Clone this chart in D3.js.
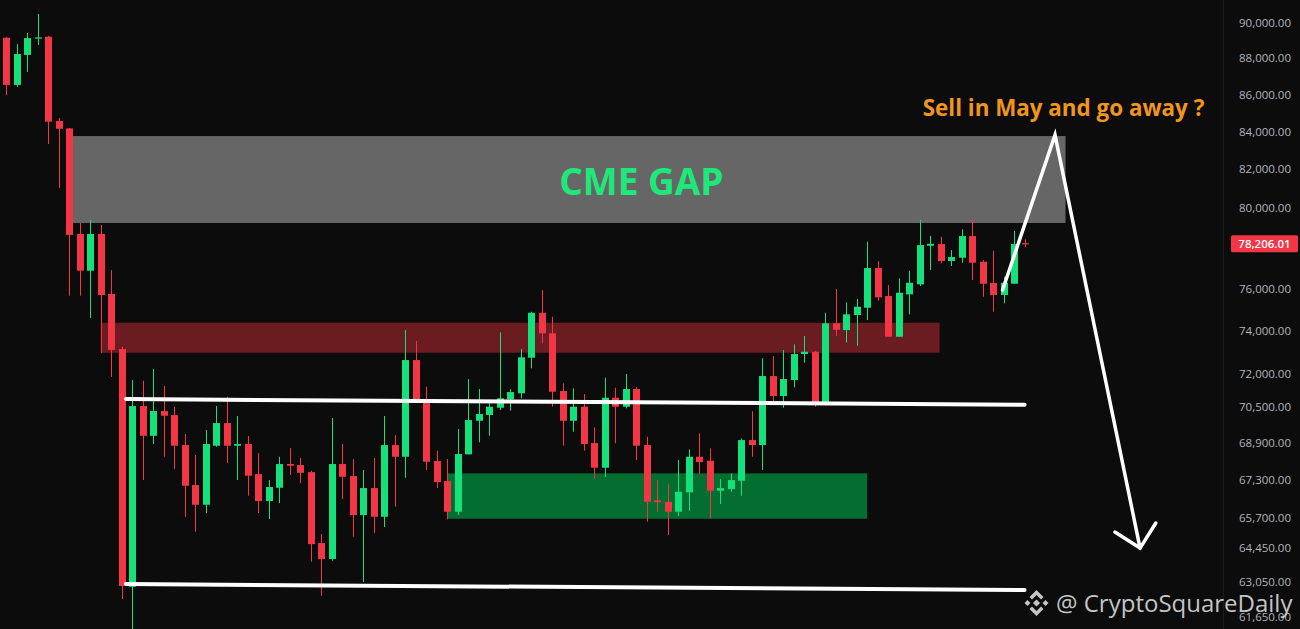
<!DOCTYPE html>
<html><head><meta charset="utf-8">
<script src="https://cdn.jsdelivr.net/npm/d3@7"></script>
<style>html,body{margin:0;padding:0;background:#0c0c0c;overflow:hidden}</style>
</head><body><svg id="c" width="1300" height="629"></svg>
<script>
// ---- data ----
const opens=[89160,86520,88190,89120,89220,84560,84160,78690,76870,78690,75740,73130,62860,70525,69200,70300,70120,68795,67065,66230,68765,69765,68765,68840,67535,66385,66950,67970,67925,67620,64635,63980,67968,67450,65795,66937,65725,68795,68285,72620,70840,68098,67236,65935,68390,69867,70122,70449,70826,71097,72728,74840,73865,71201,69867,70494,68882,67808,70898,70494,71292,68795,66414,66355,65935,66754,68285,68110,66822,66894,67249,69013,68795,71885,70975,71702,72898,73005,70673,74337,74020,74731,75079,77001,75640,73705,75722,76206,78101,78186,77345,77508,78585,77311,76269,75689,76235,78230];
const highs=[89200,88800,89430,90520,89260,84720,84180,79240,79390,79140,76900,73240,71700,71670,72210,71430,70480,69280,68360,69455,70525,70940,70080,69190,68445,67280,68285,68660,68230,67680,65005,69990,68840,68185,67710,68230,70077,69233,74020,73505,71400,68545,68185,69500,71747,71292,70718,73912,71292,73131,74888,75930,74650,71551,71324,71065,69575,71807,71351,71976,71383,69158,67279,67108,68141,68605,69309,68650,67322,67566,69088,70300,72704,72806,73085,73350,73738,73038,74840,75978,75338,75497,78301,77345,76172,76497,76869,79391,78585,78550,77888,78922,79477,77395,77853,76577,78836,78420];
const lows=[85970,86410,87240,88750,83330,81030,75660,75660,74590,72950,71840,62370,61190,67280,68840,68285,67750,65715,65100,65880,68720,68010,67280,66610,65880,65630,66300,67495,67150,63870,62500,63910,66470,64895,63050,65046,65296,66145,67375,70660,67710,66937,65617,65796,68380,68913,69203,70345,70314,70871,72238,73396,70494,68765,69380,68545,67322,67420,68869,70422,68141,65516,65935,64963,65754,65976,67536,65658,66258,66779,66610,68285,67709,70673,70449,71369,72496,70494,70556,73752,73442,73284,74493,75415,73700,73700,74764,76124,76903,77232,77100,77262,76415,75607,74888,75290,76230,78020];
const closes=[86520,88240,89140,89180,84520,84140,78640,76870,78690,75690,73090,62890,70525,69200,70300,70090,68765,67035,66230,68840,69765,68765,68840,67465,66385,66980,67968,67895,67590,64590,63980,67968,67420,65795,66937,65725,68795,68285,72620,70795,68067,67193,65935,68402,69898,70166,70494,70871,71155,72746,74840,73865,71169,69867,70494,68838,67808,70898,70494,71292,68765,66355,66342,65935,66779,68285,68054,66822,66937,67279,69013,68795,71885,70975,71747,72898,73005,70673,74337,74035,74764,75127,77001,75577,73705,75800,76284,78136,78201,77345,77543,78585,77262,76235,75689,76284,78186,78206.01];
const yTicks=[90000,88000,86000,84000,82000,80000,76000,74000,72000,70500,68900,67300,65700,64450,63050,61650];
const lastPrice=78206.01;
// zones: [start bar, end bar, upper price, lower price]
const cmeGap=[6.3,100.9,83750,79240];
const resistanceZone=[9.0,88.9,74365,72959];
const supportZone=[42.0,82.0,67566,65642];
// lines: [bar, price] points
const rangeTop=[[11.4,70838],[97.0,70583]];
const rangeBottom=[[11.4,62968],[97.0,62728]];
const arrowPath=[[94.9,75930],[99.9,83805],[108.0,64428]];
const arrowHead=[[105.6,65087],[108.0,64428],[109.5,65462]];
const gapLabel={text:"CME GAP",bar:60.5,price:81438};
const sellLabel={text:"Sell in May and go away ?",bar:87.3,price:84842};
const watermark="@ CryptoSquareDaily";

// ---- scales ----
const W=1300,H=629,plotW=1223;
const x=d3.scaleLinear().domain([-0.6,115.9]).range([0,plotW]);
const y=d3.scaleLog().domain([61650,90000]).range([617.3,23]);
const GREEN="#14e07c",RED="#f23645";

const svg=d3.select("#c");
svg.append("rect").attr("width",W).attr("height",H).attr("fill","#0c0c0c");
svg.append("defs").append("clipPath").attr("id","plot").append("rect").attr("width",plotW).attr("height",H);
const g=svg.append("g").attr("clip-path","url(#plot)");

function zone(z,fill){
  g.append("rect").attr("x",x(z[0])).attr("width",x(z[1])-x(z[0]))
   .attr("y",y(z[2])).attr("height",y(z[3])-y(z[2])).attr("fill",fill);
}
zone(cmeGap,"#666666");
zone(resistanceZone,"#6b1c21");
zone(supportZone,"#046e30");

g.append("text").attr("x",x(gapLabel.bar)).attr("y",y(gapLabel.price))
 .attr("text-anchor","middle").attr("dominant-baseline","central")
 .attr("font-family","Open Sans").attr("font-weight",700).attr("font-size",37)
 .attr("fill","#1ee87a").text(gapLabel.text);

// candles
const idx=d3.range(opens.length);
const cg=g.append("g");
cg.selectAll("line.w").data(idx).join("line")
 .attr("x1",i=>Math.round(x(i))+0.5).attr("x2",i=>Math.round(x(i))+0.5)
 .attr("y1",i=>y(highs[i])).attr("y2",i=>y(lows[i]))
 .attr("stroke",i=>closes[i]>=opens[i]?GREEN:RED).attr("stroke-width",1);
cg.selectAll("rect.b").data(idx).join("rect")
 .attr("x",i=>Math.round(x(i))-3).attr("width",7)
 .attr("y",i=>y(Math.max(opens[i],closes[i])))
 .attr("height",i=>Math.max(1.2,y(Math.min(opens[i],closes[i]))-y(Math.max(opens[i],closes[i]))))
 .attr("fill",i=>closes[i]>=opens[i]?GREEN:RED);

const line=d3.line().x(d=>x(d[0])).y(d=>y(d[1]));
g.append("path").attr("d",line(rangeTop)).attr("stroke","#fff").attr("stroke-width",4).attr("fill","none").attr("stroke-linecap","round");
g.append("path").attr("d",line(rangeBottom)).attr("stroke","#fff").attr("stroke-width",4).attr("fill","none").attr("stroke-linecap","round");
g.append("path").attr("d",line(arrowPath)).attr("stroke","#fff").attr("stroke-width",3.5).attr("fill","none").attr("stroke-linejoin","miter").attr("stroke-linecap","round");
g.append("path").attr("d",line(arrowHead)).attr("stroke","#fff").attr("stroke-width",3.5).attr("fill","none").attr("stroke-linejoin","miter").attr("stroke-linecap","round");

g.append("text").attr("x",x(sellLabel.bar)).attr("y",y(sellLabel.price))
 .attr("font-family","Open Sans").attr("font-weight",700).attr("font-size",22.4)
 .attr("fill","#f0961e").text(sellLabel.text);

// axis
svg.append("line").attr("x1",plotW+0.5).attr("x2",plotW+0.5).attr("y1",0).attr("y2",H).attr("stroke","#1c1c1c");
const ax=svg.append("g").attr("transform",`translate(${plotW+10},0)`)
 .call(d3.axisRight(y).tickValues(yTicks).tickFormat(d3.format(",.2f")).tickSize(0).tickPadding(6));
ax.select(".domain").remove();
ax.selectAll("text").attr("font-family","Open Sans").attr("font-size",11.5).attr("fill","#b2b5bb");

const py=y(lastPrice);
svg.append("rect").attr("x",1231).attr("y",py-8.5).attr("width",67).attr("height",17).attr("rx",1.5).attr("fill",RED);
svg.append("text").attr("x",1264.5).attr("y",py).attr("text-anchor","middle").attr("dominant-baseline","central")
 .attr("font-family","Open Sans").attr("font-weight",600).attr("font-size",11.5).attr("fill","#fff")
 .text(d3.format(",.2f")(lastPrice));

// watermark
const wm=svg.append("g").attr("opacity",0.9);
const lx=1036.5,ly=603;
const dia=(cx,cy,r)=>`M${cx},${cy-r}L${cx+r},${cy}L${cx},${cy+r}L${cx-r},${cy}Z`;
wm.append("path").attr("d",dia(lx,ly,3.6)+dia(lx-9,ly,3)+dia(lx+9,ly,3)).attr("fill","#d9d9d9");
wm.append("path").attr("d",`M${lx},${ly-13}L${lx+7},${ly-6}L${lx+4.5},${ly-3.5}L${lx},${ly-8}L${lx-4.5},${ly-3.5}L${lx-7},${ly-6}Z`+
  `M${lx},${ly+13}L${lx+7},${ly+6}L${lx+4.5},${ly+3.5}L${lx},${ly+8}L${lx-4.5},${ly+3.5}L${lx-7},${ly+6}Z`).attr("fill","#d9d9d9");
wm.append("text").attr("x",1056).attr("y",612).attr("font-family","Open Sans").attr("font-size",24)
 .attr("fill","#d9d9d9").text(watermark);
</script></body></html>
